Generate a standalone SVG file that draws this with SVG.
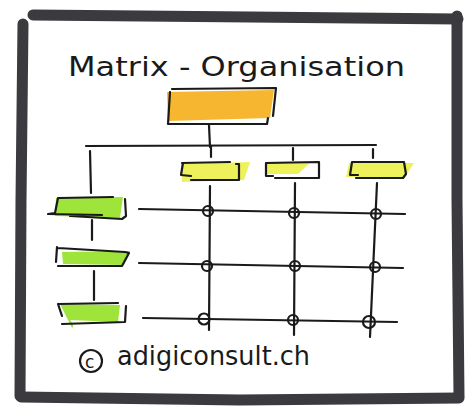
<svg xmlns="http://www.w3.org/2000/svg" width="474" height="418" viewBox="0 0 474 418">
<style>
.frame{fill:none;stroke:#3a3a3f;stroke-width:11;stroke-linecap:round;stroke-linejoin:round}
.ink{fill:none;stroke:#1a1a1a;stroke-width:2.2;stroke-linecap:round;stroke-linejoin:round}
.node{stroke:#1a1a1a;stroke-width:2.2;stroke-linejoin:round}
.top{fill:#f6b630}
.yel{fill:#eef25a}
.grn{fill:#9ee43a}
.hand{font-family:"DejaVu Sans","Liberation Sans",sans-serif;fill:#1a1a1a}
</style>
<rect width="474" height="418" fill="#ffffff"/>
<g id="frame">
<path class="frame" d="M33 15 L250 17 L458 19"/>
<path class="frame" d="M23 24 L21 200 L20 396"/>
<path class="frame" d="M457 16 L457 200 L459 396"/>
<path class="frame" d="M21 397 L240 400 L459 398"/>
</g>
<g id="title">
<text class="hand" x="68" y="76" font-size="27" textLength="337" lengthAdjust="spacingAndGlyphs">Matrix - Organisation</text>
</g>
<g id="connectors">
<path class="ink" d="M209 125 L210 147"/>
<path class="ink" d="M86 146 L376 145"/>
<path class="ink" d="M90 151 L91 193"/>
<path class="ink" d="M211 146 L211 157"/>
<path class="ink" d="M293 148 L293 160"/>
<path class="ink" d="M373 149 L373 158"/>
<path class="ink" d="M92 220 L92 240"/>
<path class="ink" d="M94 271 L94 300"/>
<path class="ink" d="M139 209 L405 214"/>
<path class="ink" d="M139 263 L403 268"/>
<path class="ink" d="M143 318 L397 322"/>
<path class="ink" d="M210 186 L209 330"/>
<path class="ink" d="M295 183 L294 335"/>
<path class="ink" d="M377 183 L370 337"/>
<circle class="ink" cx="208" cy="211" r="5"/>
<circle class="ink" cx="294" cy="213" r="5"/>
<circle class="ink" cx="376" cy="214" r="5"/>
<circle class="ink" cx="207" cy="266" r="5"/>
<circle class="ink" cx="295" cy="266" r="5"/>
<circle class="ink" cx="375" cy="267" r="5"/>
<circle class="ink" cx="204" cy="319" r="5.5"/>
<circle class="ink" cx="293" cy="320" r="5"/>
<circle class="ink" cx="369" cy="322" r="6"/>
</g>
<g id="node-top">
<path class="top" d="M167 92 L274 90 L270 118 L168 121 Z" stroke="none"/>
<path class="ink" d="M172 89 L276 88 L273 116 M170 92 L168 124 L267 124 L268 118"/>
</g>
<g id="node-col1">
<path class="yel" d="M181 164 L250 162 L244 180 L182 182 Z" stroke="none"/>
<path class="ink" d="M182 163 L230 162 M236 164 L239 164 L239 180 L191 180 M183 163 L181 175 L191 176"/>
</g>
<g id="node-col2">
<path class="yel" d="M266 162 L312 161 L298 174 L266 174 Z" stroke="none"/>
<path class="ink" d="M266 163 L319 162 L319 178 L275 178 M266 163 L266 176 L273 176"/>
</g>
<g id="node-col3">
<path class="yel" d="M349 163 L414 163 L405 177 L346 177 Z" stroke="none"/>
<path class="ink" d="M352 162 L404 162 L406 174 L403 178 L356 178 M352 162 L350 175 L358 175"/>
</g>
<g id="node-row1">
<path class="grn" d="M56 198 L123 197 L120 218 L55 216 Z" stroke="none"/>
<path class="ink" d="M59 198 L113 197 M125 199 L126 216 L122 219 L70 216 M58 198 L55 213 L48 214 L102 215"/>
</g>
<g id="node-row2">
<path class="grn" d="M62 252 L130 251 L124 265 L63 264 Z" stroke="none"/>
<path class="ink" d="M58 248 L125 252 L129 253 L122 266 L58 266 M57 247 L56 262"/>
</g>
<g id="node-row3">
<path class="grn" d="M60 304 L120 305 L118 322 L70 320 Q75 326 72 328 Z" stroke="none"/>
<path class="ink" d="M58 304 L118 303 M126 306 L125 322 L62 324 M58 304 L62 316"/>
</g>
<g id="credit">
<circle class="ink" cx="91" cy="361" r="11"/>
<text class="hand" x="85" y="368" font-size="17">c</text>
<text class="hand" x="117" y="365" font-size="26" textLength="193" lengthAdjust="spacingAndGlyphs">adigiconsult.ch</text>
</g>
</svg>
